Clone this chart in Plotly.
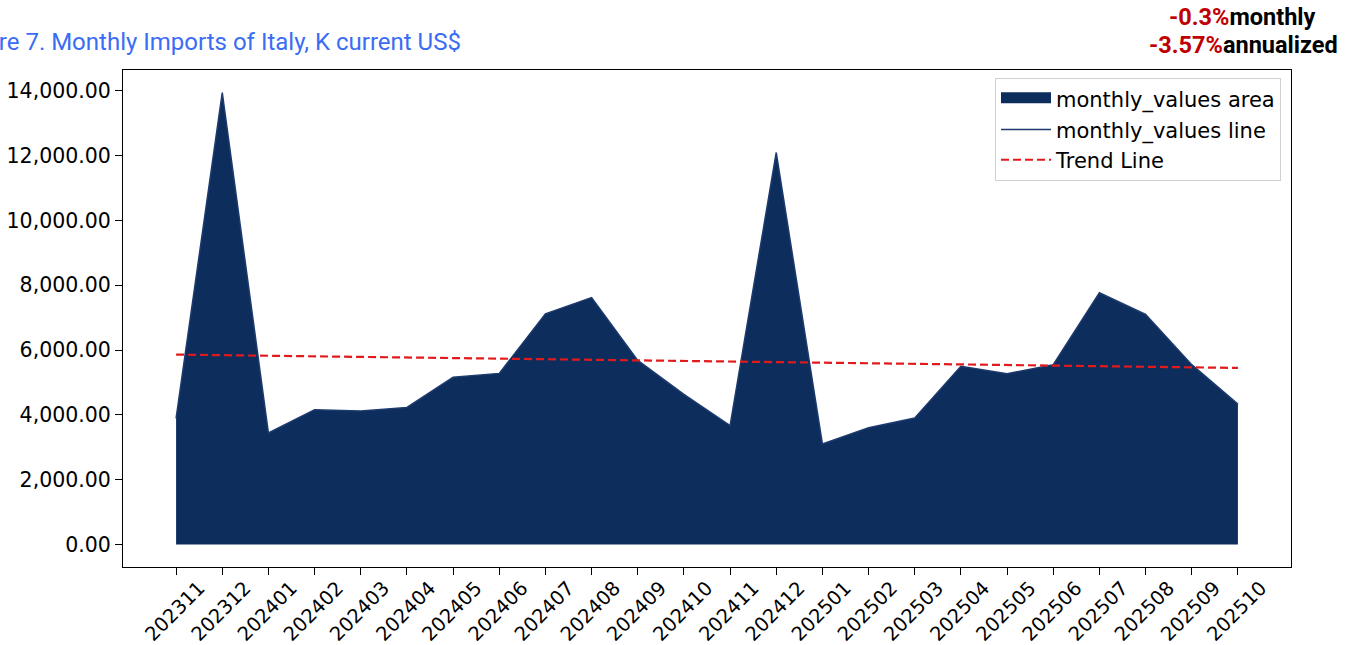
import plotly.graph_objects as go

months = ["202311", "202312", "202401", "202402", "202403", "202404", "202405", "202406",
          "202407", "202408", "202409", "202410", "202411", "202412", "202501", "202502",
          "202503", "202504", "202505", "202506", "202507", "202508", "202509", "202510"]
monthly_values = [3890, 13950, 3440, 4160, 4120, 4230, 5160, 5280,
                  7120, 7620, 5680, 4630, 3670, 12100, 3100, 3600,
                  3900, 5500, 5270, 5550, 7770, 7100, 5550, 4330]
trend_months = [months[0], months[-1]]
trend_values = [5860, 5450]

title_text = "Figure 7. Monthly Imports of Italy, K current US$"
monthly_rate = "-0.3%"
annual_rate = "-3.57%"

NAVY = "#0d2d5d"
W, H = 1357, 645
PL, PR, PT, PB = 123, 1291, 70, 567  # plot area in page pixels
L, T = PL, PT
pw, ph = PR - PL, PB - PT
R = W - L - pw
B = H - T - ph

def px_x(p):
    return (p - PL) / pw

def px_y(p):
    return 1 + (PT - p) / ph

fig = go.Figure()
fig.add_trace(go.Scatter(x=months, y=monthly_values, mode="none", fill="tozeroy",
                         fillcolor=NAVY, name="monthly_values area", showlegend=False))
fig.add_trace(go.Scatter(x=[None], y=[None], name="monthly_values area", mode="lines",
                         fill="tozeroy", fillcolor=NAVY,
                         line=dict(color=NAVY, width=17)))
fig.add_trace(go.Scatter(x=months, y=monthly_values, mode="lines",
                         line=dict(color="#1d3b6e", width=1.5), name="monthly_values line"))
fig.add_trace(go.Scatter(x=trend_months, y=trend_values, mode="lines",
                         line=dict(color="#e31a1c", width=2.2, dash="8px,4px"), name="Trend Line"))

axis_common = dict(showline=True, linecolor="black", linewidth=1, mirror=True,
                   ticks="outside", ticklen=7, tickcolor="black", showgrid=False,
                   zeroline=False, automargin=False)

fig.update_layout(
    width=W, height=H,
    margin=dict(l=L, r=R, t=T, b=B, pad=0, autoexpand=False),
    paper_bgcolor="white", plot_bgcolor="white",
    showlegend=True,
    legend=dict(x=px_x(1281), y=px_y(78), xanchor="right", yanchor="top",
                bgcolor="white", bordercolor="#d0d0d0", borderwidth=1,
                font=dict(family="DejaVu Sans", size=21, color="black"),
                tracegroupgap=0, itemwidth=50),
    xaxis=dict(type="category", range=[-1.15, 24.15], tickangle=-45,
               ticklabelshift=23, ticklabelstandoff=-6,
               tickfont=dict(family="DejaVu Sans", size=19.5, color="black"), **axis_common),
    yaxis=dict(range=[-697, 14647], tickformat=",.2f",
               tickvals=[0, 2000, 4000, 6000, 8000, 10000, 12000, 14000],
               tickfont=dict(family="DejaVu Sans", size=20.5, color="black"), **axis_common),
    annotations=[
        dict(text=title_text, xref="paper", yref="paper", x=px_x(463), y=px_y(42),
             xanchor="right", yanchor="middle", showarrow=False,
             font=dict(family="Roboto", size=24, color="#3b6cf4")),
        dict(text=f"<b><span style='color:#c00000'>{monthly_rate}</span>monthly</b>",
             xref="paper", yref="paper", x=px_x(1242), y=px_y(17),
             xanchor="center", yanchor="middle", showarrow=False,
             font=dict(family="Roboto", size=23.5, color="black")),
        dict(text=f"<b><span style='color:#c00000'>{annual_rate}</span>annualized</b>",
             xref="paper", yref="paper", x=px_x(1243), y=px_y(45),
             xanchor="center", yanchor="middle", showarrow=False,
             font=dict(family="Roboto", size=23.5, color="black")),
    ],
)

fig.write_html("out.html", config={"displayModeBar": False},
               post_script="document.body.style.margin='0';document.body.style.overflow='hidden';")
